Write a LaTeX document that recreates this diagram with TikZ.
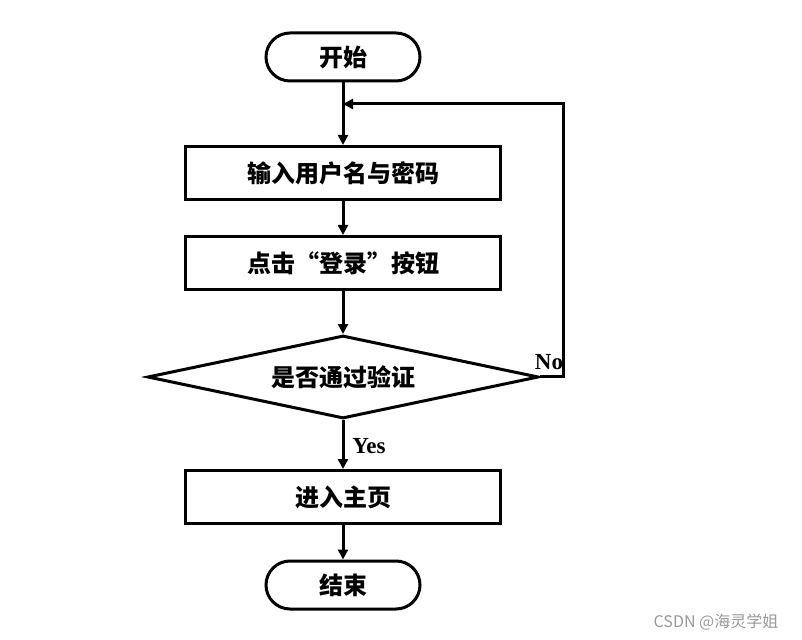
\documentclass[tikz,border=0pt]{standalone}
\usepackage{fontspec}
\usepackage{tikz}
\usetikzlibrary{shapes.geometric,arrows.meta}
\setmainfont{Noto Sans CJK SC}
\newfontfamily\latinfont{Liberation Serif}
\definecolor{MarkGray}{HTML}{9A9A9A}

\tikzset{
  Terminal/.style={draw, line width=1.5pt, rounded corners=12pt, minimum width=77pt, minimum height=24pt, font=\fontsize{12pt}{14pt}\selectfont\bfseries},
  Process/.style={draw, line width=1.5pt, minimum width=157.5pt, minimum height=26.5pt, font=\fontsize{12pt}{14pt}\selectfont\bfseries},
  Decision/.style={draw, diamond, aspect=4.7, line width=1.5pt, inner sep=0pt, minimum width=195.5pt, minimum height=41.5pt, font=\fontsize{12pt}{14pt}\selectfont\bfseries},
  Arrow/.style={line width=1.5pt, -{Triangle[length=5pt,width=5pt]}},
  Branch/.style={font=\latinfont\fontsize{11.5pt}{13pt}\selectfont\bfseries}
}

\begin{document}
\begin{tikzpicture}[x=0.5pt,y=-0.5pt]
            \useasboundingbox (0,0) rectangle (802,640);

            \node[Terminal] (start) at (343,57){开始};
            \node[Process] (input) at (343,173){输入用户名与密码};
            \node[Process] (login) at (343,263){点击“登录”按钮};
            \node[Decision] (check) at (343,377){是否通过验证};
            \node[Process] (home) at (343,497){进入主页};
            \node[Terminal] (stop) at (343,585){结束};

            \coordinate (join) at (343,104);
            \coordinate (turn) at (563,104);

            \draw[Arrow] (start) -- (input);
            \draw[Arrow] (input) -- (login);
            \draw[Arrow] (login) -- (check);
            \draw[Arrow] (check) -- (home);
            \draw[Arrow] (home) -- (stop);

            % failed check goes back to the input step
            \draw[Arrow] (check.east) -| (turn) -- (join);
            \node[Branch] (no) at (549,362){No};
            \node[Branch] (yes) at (369,446){Yes};

            \node[text=MarkGray, font=\fontsize{8pt}{10pt}\selectfont] (mark) at (716,622){CSDN @海灵学姐};
\end{tikzpicture}
\end{document}
